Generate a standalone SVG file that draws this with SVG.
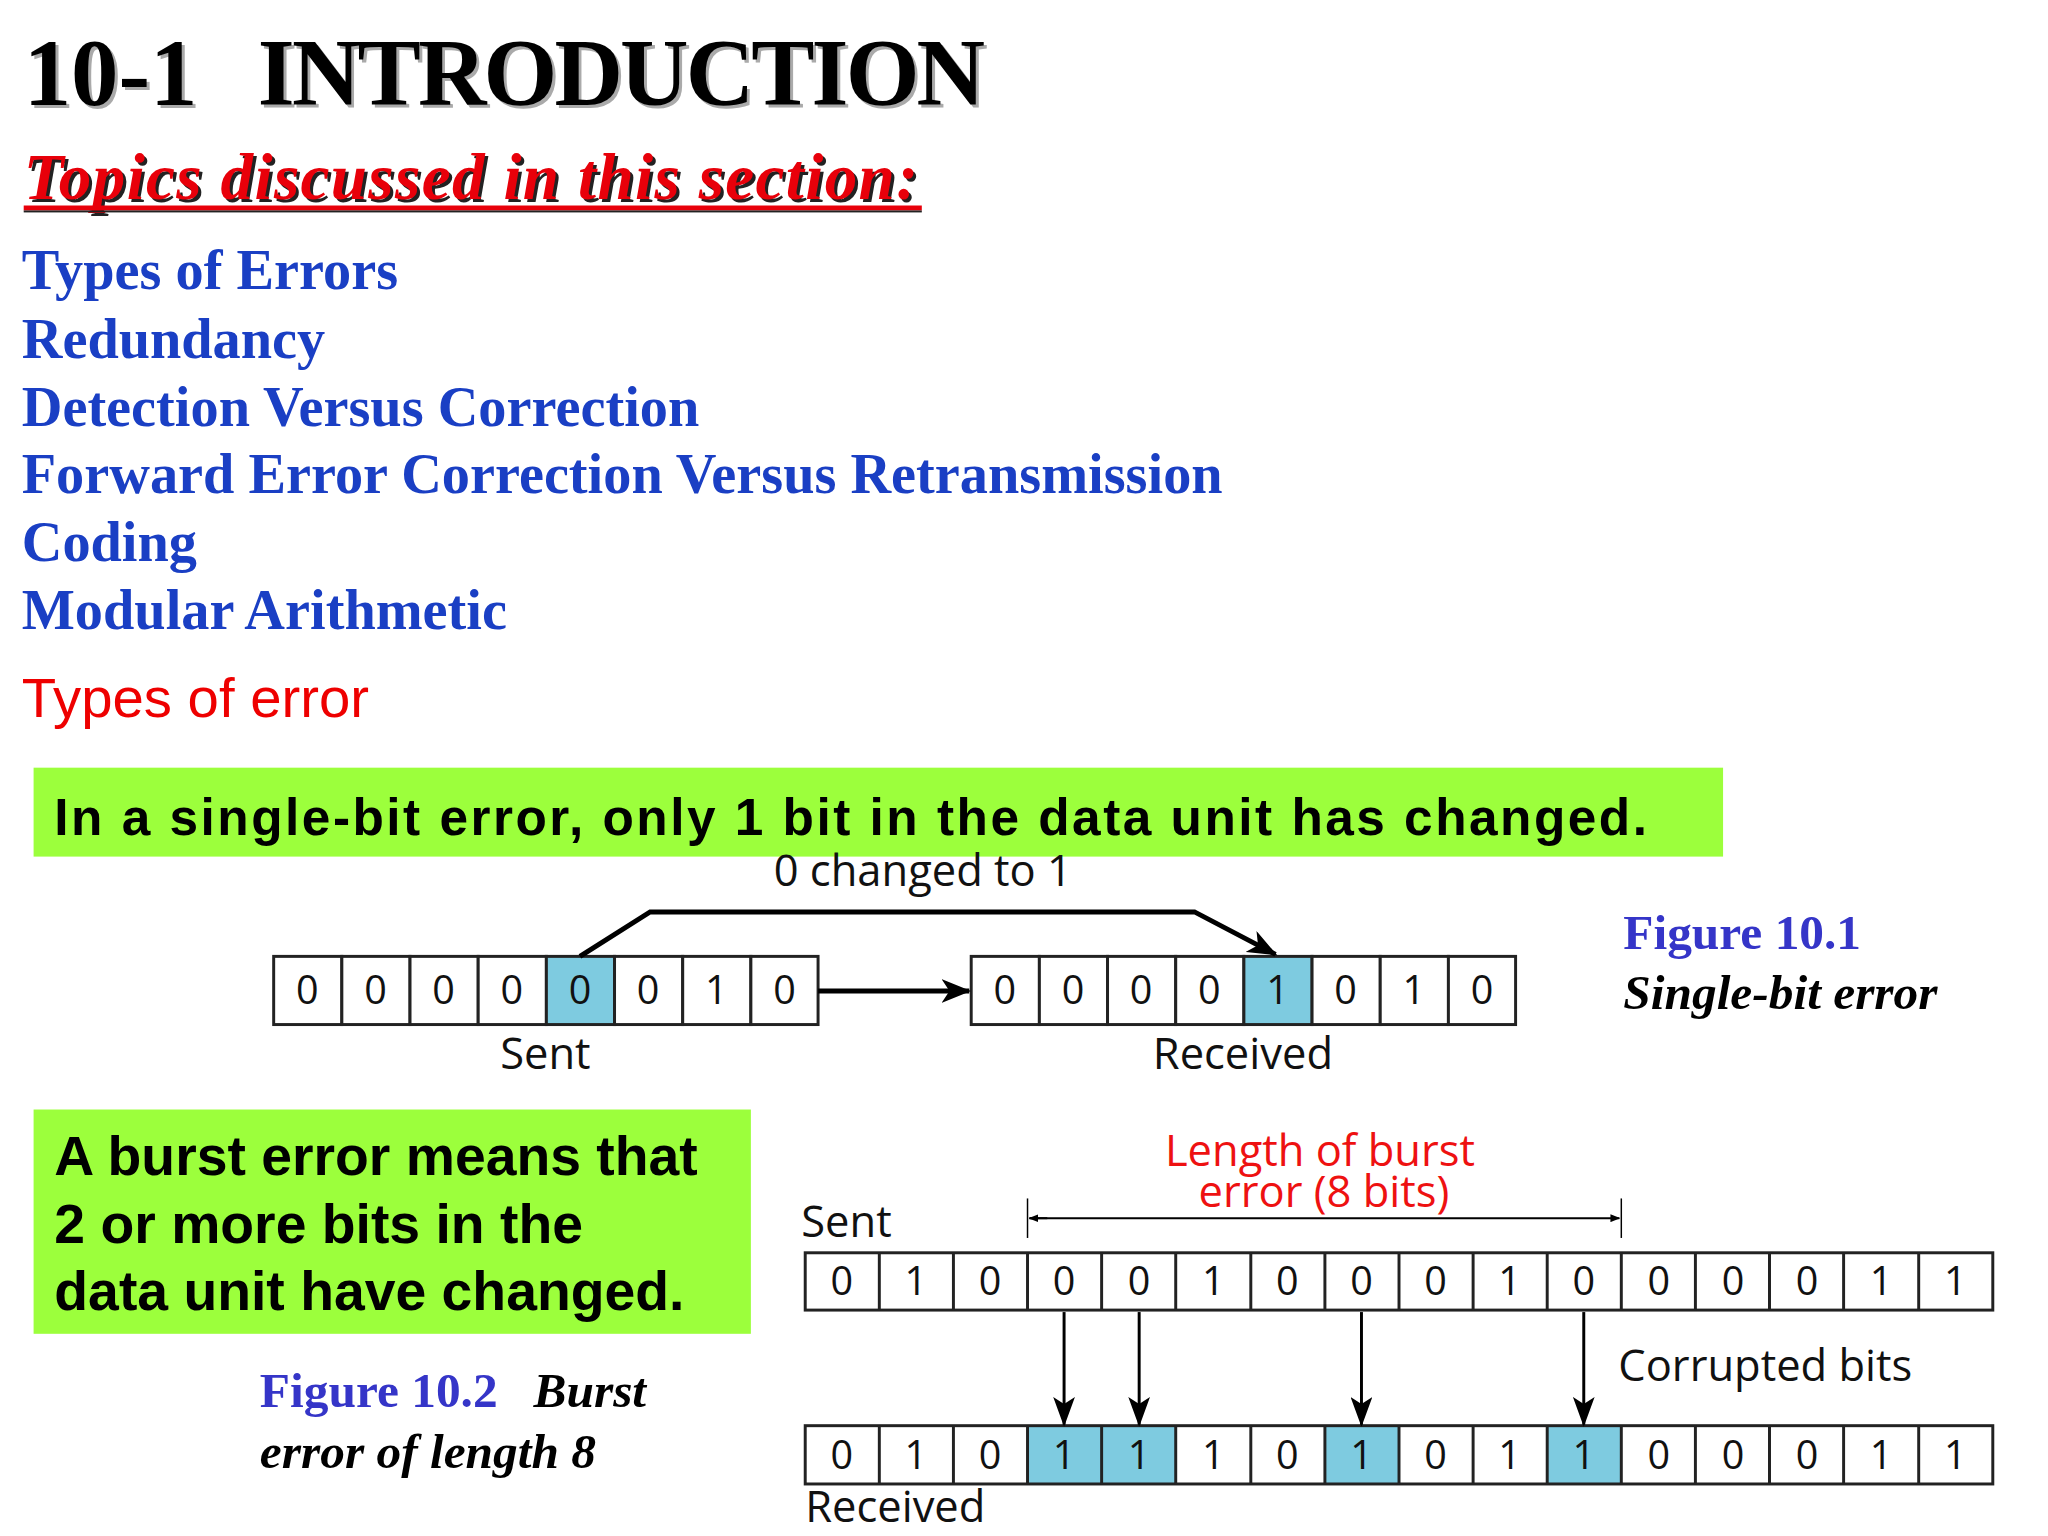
<svg xmlns="http://www.w3.org/2000/svg" width="2048" height="1536" viewBox="0 0 2048 1536">
<defs>
<marker id="ah" markerWidth="10" markerHeight="8" refX="9" refY="4" orient="auto" markerUnits="userSpaceOnUse"><path d="M0,0 L10,4 L0,8 z" fill="#000"/></marker>
<marker id="big" markerWidth="30" markerHeight="24" refX="28" refY="12" orient="auto" markerUnits="userSpaceOnUse"><path d="M0,0 L30,12 L0,24 L8,12 z" fill="#000"/></marker>
<marker id="dn" markerWidth="30" markerHeight="22" refX="28" refY="11" orient="auto" markerUnits="userSpaceOnUse"><path d="M0,0 L30,11 L0,22 L7,11 z" fill="#000"/></marker>
</defs>
<style>
.serif{font-family:"Liberation Serif","Times New Roman",serif}
.blue{fill:#1a3fc4;font-weight:bold;font-size:57px}
.cell{fill:#fff;stroke:#222;stroke-width:3}
.hl{fill:#7ecbe0;stroke:#222;stroke-width:3}
.bit{font-family:"Open Sans","Liberation Sans",sans-serif;font-size:40px;text-anchor:middle;fill:#111}
.lbl{font-family:"Open Sans","Liberation Sans",sans-serif;font-size:44px}
.green{fill:#9cff3c}
.gt{font-family:"Liberation Sans",Arial,sans-serif;font-weight:bold;fill:#000}
</style>
<rect width="2048" height="1536" fill="#fff"/>
<g transform="scale(0.988)">
<g id="title" class="serif" font-size="96" font-weight="bold">
<text x="27" y="109" fill="#aaa">10-1</text>
<text x="24" y="106" fill="#000">10-1</text>
<text x="264" y="109" fill="#aaa" textLength="736">INTRODUCTION</text>
<text x="261" y="106" fill="#000" textLength="736">INTRODUCTION</text>
</g>
<g id="topics">
<text x="27" y="204" class="serif" font-size="66" font-weight="bold" font-style="italic" fill="#222" textLength="905">Topics discussed in this section:</text>
<text x="24" y="201" class="serif" font-size="66" font-weight="bold" font-style="italic" fill="#e8000a" textLength="905">Topics discussed in this section:</text>
<rect x="24" y="208" width="909" height="5" fill="#e8000a"/>
<rect x="24" y="213" width="909" height="2" fill="#222"/>
</g>
<g id="list" class="serif">
<text x="22" y="293" class="blue">Types of Errors</text>
<text x="22" y="362" class="blue">Redundancy</text>
<text x="22" y="431" class="blue">Detection Versus Correction</text>
<text x="22" y="499" class="blue">Forward Error Correction Versus Retransmission</text>
<text x="22" y="568" class="blue">Coding</text>
<text x="22" y="637" class="blue">Modular Arithmetic</text>
</g>
<text id="typesoferror" x="22" y="726" font-family="Liberation Sans,Arial,sans-serif" font-size="57" fill="#ee0000">Types of error</text>
<g id="box1">
<rect x="34" y="777" width="1710" height="90" class="green"/>
<text x="55" y="845" class="gt" font-size="52" textLength="1612">In a single-bit error, only 1 bit in the data unit has changed.</text>
</g>
<g id="sent1">
<rect x="277" y="968" width="69" height="69" class="cell"/><text x="311" y="1016" class="bit">0</text>
<rect x="346" y="968" width="69" height="69" class="cell"/><text x="380" y="1016" class="bit">0</text>
<rect x="415" y="968" width="69" height="69" class="cell"/><text x="449" y="1016" class="bit">0</text>
<rect x="484" y="968" width="69" height="69" class="cell"/><text x="518" y="1016" class="bit">0</text>
<rect x="553" y="968" width="69" height="69" class="hl"/><text x="587" y="1016" class="bit">0</text>
<rect x="622" y="968" width="69" height="69" class="cell"/><text x="656" y="1016" class="bit">0</text>
<rect x="691" y="968" width="69" height="69" class="cell"/><text x="725" y="1016" class="bit">1</text>
<rect x="760" y="968" width="68" height="69" class="cell"/><text x="794" y="1016" class="bit">0</text>
<text x="552" y="1082" class="lbl" text-anchor="middle" fill="#111">Sent</text>
</g>
<g id="recv1">
<rect x="983" y="968" width="69" height="69" class="cell"/><text x="1017" y="1016" class="bit">0</text>
<rect x="1052" y="968" width="69" height="69" class="cell"/><text x="1086" y="1016" class="bit">0</text>
<rect x="1121" y="968" width="69" height="69" class="cell"/><text x="1155" y="1016" class="bit">0</text>
<rect x="1190" y="968" width="69" height="69" class="cell"/><text x="1224" y="1016" class="bit">0</text>
<rect x="1259" y="968" width="69" height="69" class="hl"/><text x="1293" y="1016" class="bit">1</text>
<rect x="1328" y="968" width="69" height="69" class="cell"/><text x="1362" y="1016" class="bit">0</text>
<rect x="1397" y="968" width="69" height="69" class="cell"/><text x="1431" y="1016" class="bit">1</text>
<rect x="1466" y="968" width="68" height="69" class="cell"/><text x="1500" y="1016" class="bit">0</text>
<text x="1258" y="1082" class="lbl" text-anchor="middle" fill="#111">Received</text>
</g>
<text id="changed" x="934" y="897" class="lbl" text-anchor="middle" fill="#111">0 changed to 1</text>
<g id="fig1" class="serif" font-size="50" font-weight="bold">
<text x="1643" y="961" fill="#3535c8">Figure 10.1</text>
<text x="1643" y="1021" font-style="italic" fill="#000">Single-bit error</text>
</g>
<g id="box2">
<rect x="34" y="1123" width="726" height="227" class="green"/>
<text x="55" y="1189" class="gt" font-size="56">A burst error means that</text>
<text x="55" y="1258" class="gt" font-size="56">2 or more bits in the</text>
<text x="55" y="1326" class="gt" font-size="56">data unit have changed.</text>
</g>
<g id="fig2" class="serif" font-size="50" font-weight="bold">
<text x="263" y="1424" fill="#3535c8">Figure 10.2</text>
<text x="540" y="1424" font-style="italic" fill="#000">Burst</text>
<text x="263" y="1486" font-style="italic" fill="#000">error of length 8</text>
</g>
<g id="sent2">
<rect x="815" y="1268" width="1202" height="58" class="cell"/>
<g stroke="#222" stroke-width="3">
<line x1="890" y1="1268" x2="890" y2="1326"/><line x1="965" y1="1268" x2="965" y2="1326"/><line x1="1040" y1="1268" x2="1040" y2="1326"/><line x1="1115" y1="1268" x2="1115" y2="1326"/><line x1="1190" y1="1268" x2="1190" y2="1326"/><line x1="1266" y1="1268" x2="1266" y2="1326"/><line x1="1341" y1="1268" x2="1341" y2="1326"/><line x1="1416" y1="1268" x2="1416" y2="1326"/><line x1="1491" y1="1268" x2="1491" y2="1326"/><line x1="1566" y1="1268" x2="1566" y2="1326"/><line x1="1641" y1="1268" x2="1641" y2="1326"/><line x1="1716" y1="1268" x2="1716" y2="1326"/><line x1="1791" y1="1268" x2="1791" y2="1326"/><line x1="1866" y1="1268" x2="1866" y2="1326"/><line x1="1942" y1="1268" x2="1942" y2="1326"/>
</g>
<g class="bit"><text x="852" y="1311">0</text><text x="927" y="1311">1</text><text x="1002" y="1311">0</text><text x="1077" y="1311">0</text><text x="1153" y="1311">0</text><text x="1228" y="1311">1</text><text x="1303" y="1311">0</text><text x="1378" y="1311">0</text><text x="1453" y="1311">0</text><text x="1528" y="1311">1</text><text x="1603" y="1311">0</text><text x="1679" y="1311">0</text><text x="1754" y="1311">0</text><text x="1829" y="1311">0</text><text x="1904" y="1311">1</text><text x="1979" y="1311">1</text></g>
<text x="811" y="1252" class="lbl" fill="#111">Sent</text>
</g>
<g id="recv2">
<g fill="#7ecbe0"><rect x="1040" y="1444" width="150" height="57"/><rect x="1341" y="1444" width="75" height="57"/><rect x="1566" y="1444" width="75" height="57"/></g>
<rect x="815" y="1443" width="1202" height="59" fill="none" stroke="#222" stroke-width="3"/>
<g stroke="#222" stroke-width="3">
<line x1="890" y1="1443" x2="890" y2="1502"/><line x1="965" y1="1443" x2="965" y2="1502"/><line x1="1040" y1="1443" x2="1040" y2="1502"/><line x1="1115" y1="1443" x2="1115" y2="1502"/><line x1="1190" y1="1443" x2="1190" y2="1502"/><line x1="1266" y1="1443" x2="1266" y2="1502"/><line x1="1341" y1="1443" x2="1341" y2="1502"/><line x1="1416" y1="1443" x2="1416" y2="1502"/><line x1="1491" y1="1443" x2="1491" y2="1502"/><line x1="1566" y1="1443" x2="1566" y2="1502"/><line x1="1641" y1="1443" x2="1641" y2="1502"/><line x1="1716" y1="1443" x2="1716" y2="1502"/><line x1="1791" y1="1443" x2="1791" y2="1502"/><line x1="1866" y1="1443" x2="1866" y2="1502"/><line x1="1942" y1="1443" x2="1942" y2="1502"/>
</g>
<g class="bit"><text x="852" y="1487">0</text><text x="927" y="1487">1</text><text x="1002" y="1487">0</text><text x="1077" y="1487">1</text><text x="1153" y="1487">1</text><text x="1228" y="1487">1</text><text x="1303" y="1487">0</text><text x="1378" y="1487">1</text><text x="1453" y="1487">0</text><text x="1528" y="1487">1</text><text x="1603" y="1487">1</text><text x="1679" y="1487">0</text><text x="1754" y="1487">0</text><text x="1829" y="1487">0</text><text x="1904" y="1487">1</text><text x="1979" y="1487">1</text></g>
<text x="815" y="1540" class="lbl" fill="#111">Received</text>
</g>
<g id="burstlabels">
<text x="1336" y="1180" class="lbl" text-anchor="middle" fill="#ee1111">Length of burst</text>
<text x="1340" y="1222" class="lbl" text-anchor="middle" fill="#ee1111">error (8 bits)</text>
<text x="1638" y="1398" class="lbl" fill="#111">Corrupted bits</text>
</g>
<g id="connectors" fill="none" stroke="#000">
<line x1="828" y1="1003" x2="981" y2="1003" stroke-width="5" marker-end="url(#big)"/>
<polyline points="587,968 658,923 1209,923 1291,966" stroke-width="5" marker-end="url(#big)"/>
<line x1="1040" y1="1213" x2="1040" y2="1253" stroke-width="1.5"/>
<line x1="1641" y1="1213" x2="1641" y2="1253" stroke-width="1.5"/>
<line x1="1060" y1="1233" x2="1042" y2="1233" stroke-width="2" marker-end="url(#ah)"/>
<line x1="1042" y1="1233" x2="1639" y2="1233" stroke-width="2" marker-end="url(#ah)"/>
<line x1="1077" y1="1328" x2="1077" y2="1442" stroke-width="3" marker-end="url(#dn)"/>
<line x1="1153" y1="1328" x2="1153" y2="1442" stroke-width="3" marker-end="url(#dn)"/>
<line x1="1378" y1="1328" x2="1378" y2="1442" stroke-width="3" marker-end="url(#dn)"/>
<line x1="1603" y1="1328" x2="1603" y2="1442" stroke-width="3" marker-end="url(#dn)"/>
</g>
</g>
</svg>
